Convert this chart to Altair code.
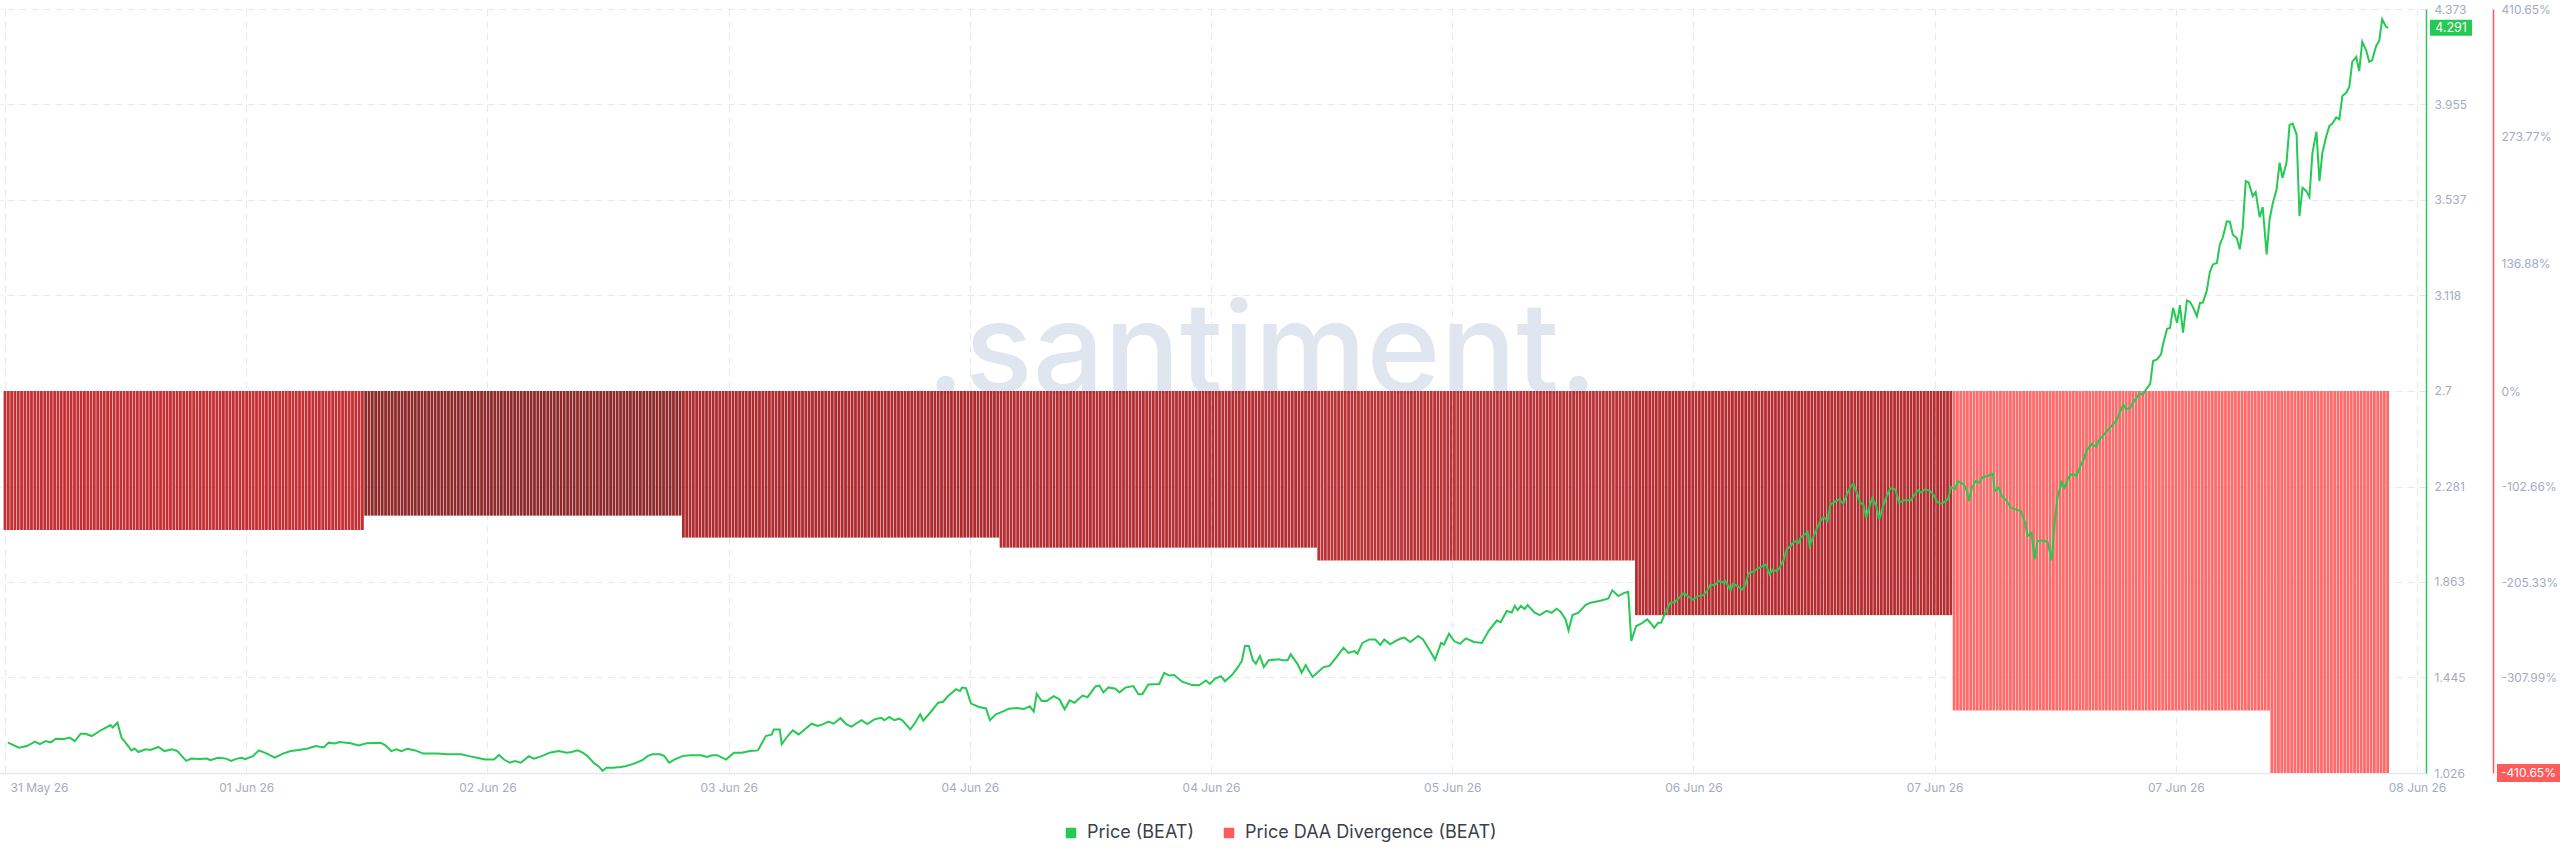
import json
import numpy as np
import pandas as pd
import altair as alt

# ---------------- data ----------------
# hours since start of window
price_hours = [
    0.23, 1.05, 1.66, 2.26, 2.63, 3.08, 3.46, 3.84, 4.44, 4.89, 5.27, 5.72, 6.09, 6.55, 7.15, 7.52, 7.97, 8.13, 8.50, 8.80,
    9.18, 9.55, 9.78, 10.08, 10.61, 10.98, 11.59, 12.04, 12.64, 13.02, 13.69, 14.07, 14.67, 15.27, 15.50, 16.10, 16.70, 17.08, 17.53, 17.91,
    18.13, 18.73, 19.18, 19.79, 20.39, 20.99, 21.59, 22.19, 22.87, 23.47, 24.08, 24.45, 24.90, 25.28, 26.11, 26.71, 27.31, 28.36, 28.74, 29.19,
    29.57, 29.94, 30.39, 31.00, 31.60, 32.65, 33.40, 34.46, 35.06, 35.66, 36.26, 36.94, 37.32, 37.69, 38.14, 38.52, 38.97, 39.57, 39.95, 40.55,
    41.15, 41.83, 42.43, 42.81, 43.26, 43.64, 44.01, 44.46, 44.84, 45.14, 45.44, 45.89, 46.50, 46.87, 47.47, 48.15, 48.53, 48.90, 49.50, 49.81,
    50.18, 50.56, 51.16, 51.76, 52.59, 53.04, 53.42, 53.79, 54.47, 55.07, 55.67, 56.28, 56.88, 57.48, 57.93, 58.08, 58.53, 58.68, 59.13, 59.51,
    59.96, 60.34, 60.94, 61.39, 61.77, 62.22, 62.60, 63.12, 63.57, 63.95,
    64.70, 65.15, 65.68, 66.21, 66.43, 66.81, 67.18, 67.56, 67.79, 68.39, 68.76, 69.14, 69.37, 69.89, 70.50, 70.87, 71.25, 71.85, 72.15, 72.30,
    72.60, 72.98, 73.58, 74.11, 74.41, 74.86, 75.46, 75.84, 76.44, 76.97, 77.42, 77.72, 77.94, 78.32, 78.70, 79.22, 79.67, 80.05, 80.43, 80.80,
    81.40, 81.78, 82.38, 82.68, 82.98, 83.36, 83.89, 84.19, 84.64, 85.24, 85.62, 85.92, 86.37, 87.20, 87.57, 87.95, 88.33, 88.93, 89.68, 90.21,
    90.73, 91.03, 91.41, 91.86, 92.16, 92.69, 93.14, 93.44, 93.67, 93.97, 94.27, 94.50, 94.80, 95.10, 95.47, 96.23, 96.53, 96.90, 97.13, 97.66,
    97.96, 98.26, 98.78, 99.61, 100.06, 100.59, 101.12, 101.49, 101.94, 102.17, 102.55, 103.07, 103.52, 103.90, 104.20, 104.65, 105.03, 105.40, 105.71, 106.16,
    106.76, 107.13, 107.51, 108.04, 108.49, 108.71, 109.09, 109.47, 109.92, 110.37, 110.97, 111.57, 112.10, 112.70, 113.00, 113.45, 113.83, 114.06, 114.28, 114.51,
    114.81, 115.03, 115.56, 115.94, 116.46, 116.84, 117.22, 117.52, 117.89, 118.12, 118.42, 118.87, 119.40, 119.77, 120.15, 120.60, 121.13, 121.43, 121.88, 122.33,
    122.63, 122.86, 123.23, 123.61, 124.06,
    124.36, 124.59, 124.89, 125.12, 125.42, 125.79, 126.17, 126.47, 126.85, 127.22, 127.52, 127.90, 128.28, 128.58, 128.80, 129.18, 129.48, 129.78, 129.93, 130.16,
    130.38, 130.53, 130.91, 131.21, 131.44, 131.74, 132.11, 132.41, 132.79, 133.02, 133.32, 133.54, 133.84, 134.07, 134.37, 134.60, 134.90, 135.05, 135.27, 135.50,
    135.65, 135.95, 136.18, 136.33, 136.63, 136.85, 137.15, 137.38, 137.68, 137.91, 138.36, 138.58, 138.88, 139.11, 139.41, 139.64, 139.94, 140.16, 140.39, 140.61,
    140.91, 141.07, 141.37, 141.59, 141.89, 142.12, 142.42, 142.80, 143.10, 143.47, 144.00, 144.23, 144.53, 144.75, 145.05, 145.43, 145.73, 145.96, 146.33, 146.78,
    147.01, 147.31, 147.54, 147.99, 148.21, 148.36, 148.59, 148.89, 149.12, 149.42, 149.79, 150.17, 150.32, 150.62, 150.85, 151.22, 151.52, 151.90, 152.28, 152.58,
    152.80, 153.10, 153.33, 153.55, 153.86, 154.31, 154.61, 154.83, 155.06, 155.36, 155.59, 155.89, 156.19, 156.49, 156.79, 157.09, 157.24, 157.62, 157.99, 158.14,
    158.89, 159.50,
    160.02, 160.25, 160.55, 160.85, 161.23, 161.53, 161.76, 162.06, 162.28, 162.58, 162.88, 163.03, 163.34, 163.56, 163.79, 164.09, 164.31, 164.54, 164.84, 165.07,
    165.29, 165.59, 165.82, 166.04, 166.34, 166.57, 166.80, 167.10, 167.32, 167.55, 167.85, 168.08, 168.30, 168.60, 168.83, 169.05, 169.28, 169.50, 169.81, 170.03,
    170.33, 170.56, 170.86, 171.08, 171.31, 171.61, 171.84, 172.06, 172.36, 172.59, 172.82, 173.12, 173.34, 173.57, 173.87, 174.09, 174.32, 174.62, 174.85, 175.07,
    175.37, 175.60, 175.82, 176.12, 176.35, 176.58, 176.88, 177.10, 177.33, 177.63, 177.85, 178.08, 178.38, 178.61, 178.83, 179.13, 179.36, 179.59, 179.89, 180.04,
]

price_values = [
    1.159, 1.137, 1.144, 1.163, 1.152, 1.166, 1.160, 1.176, 1.175, 1.181, 1.166, 1.198, 1.198, 1.188, 1.210, 1.222, 1.236, 1.225, 1.246, 1.181,
    1.154, 1.125, 1.133, 1.118, 1.130, 1.127, 1.140, 1.122, 1.130, 1.122, 1.079, 1.089, 1.087, 1.089, 1.082, 1.093, 1.089, 1.079, 1.089, 1.093,
    1.087, 1.100, 1.125, 1.111, 1.093, 1.111, 1.122, 1.127, 1.133, 1.144, 1.138, 1.159, 1.155, 1.162, 1.156, 1.147, 1.156, 1.159, 1.147, 1.122,
    1.130, 1.122, 1.132, 1.125, 1.111, 1.111, 1.108, 1.108, 1.100, 1.093, 1.085, 1.085, 1.105, 1.085, 1.071, 1.078, 1.071, 1.100, 1.089, 1.100,
    1.115, 1.122, 1.115, 1.118, 1.125, 1.115, 1.100, 1.071, 1.056, 1.035, 1.049, 1.049, 1.052, 1.056, 1.066, 1.082, 1.100, 1.108, 1.108, 1.100,
    1.071, 1.085, 1.100, 1.104, 1.104, 1.096, 1.104, 1.104, 1.085, 1.115, 1.115, 1.122, 1.125, 1.188, 1.195, 1.217, 1.217, 1.152, 1.188, 1.213,
    1.195, 1.213, 1.242, 1.232, 1.239, 1.251, 1.242, 1.266, 1.239, 1.229,
    1.257, 1.240, 1.261, 1.268, 1.257, 1.272, 1.257, 1.264, 1.257, 1.217, 1.246, 1.283, 1.255, 1.290, 1.334, 1.338, 1.363, 1.393, 1.385, 1.400,
    1.398, 1.330, 1.315, 1.309, 1.257, 1.283, 1.297, 1.308, 1.311, 1.306, 1.318, 1.295, 1.373, 1.341, 1.341, 1.363, 1.348, 1.305, 1.344, 1.334,
    1.365, 1.358, 1.405, 1.409, 1.379, 1.401, 1.395, 1.379, 1.400, 1.407, 1.371, 1.371, 1.414, 1.416, 1.465, 1.453, 1.455, 1.426, 1.411, 1.410,
    1.431, 1.416, 1.440, 1.450, 1.428, 1.455, 1.490, 1.517, 1.582, 1.582, 1.520, 1.505, 1.539, 1.490, 1.520, 1.524, 1.520, 1.520, 1.546, 1.502,
    1.465, 1.499, 1.447, 1.490, 1.495, 1.534, 1.575, 1.552, 1.560, 1.549, 1.596, 1.611, 1.611, 1.587, 1.611, 1.590, 1.604, 1.614, 1.619, 1.600,
    1.626, 1.611, 1.575, 1.523, 1.596, 1.589, 1.636, 1.604, 1.592, 1.616, 1.600, 1.596, 1.650, 1.694, 1.687, 1.736, 1.729, 1.758, 1.740, 1.758,
    1.744, 1.762, 1.728, 1.718, 1.736, 1.728, 1.746, 1.733, 1.700, 1.650, 1.718, 1.728, 1.762, 1.772, 1.776, 1.782, 1.791, 1.826, 1.801, 1.815,
    1.820, 1.604, 1.670, 1.680, 1.699,
    1.680, 1.662, 1.684, 1.684, 1.728, 1.771, 1.775, 1.793, 1.815, 1.796, 1.786, 1.801, 1.804, 1.823, 1.849, 1.851, 1.867, 1.860, 1.870, 1.848,
    1.826, 1.855, 1.845, 1.830, 1.845, 1.902, 1.909, 1.922, 1.932, 1.939, 1.896, 1.917, 1.910, 1.925, 1.960, 2.005, 2.020, 2.034, 2.042, 2.034,
    2.057, 2.071, 2.083, 2.020, 2.064, 2.093, 2.130, 2.147, 2.130, 2.203, 2.218, 2.225, 2.206, 2.240, 2.279, 2.294, 2.247, 2.210, 2.203, 2.144,
    2.203, 2.230, 2.196, 2.137, 2.196, 2.233, 2.273, 2.269, 2.210, 2.221, 2.221, 2.244, 2.265, 2.255, 2.269, 2.262, 2.240, 2.213, 2.206, 2.225,
    2.279, 2.269, 2.305, 2.290, 2.262, 2.218, 2.276, 2.305, 2.298, 2.323, 2.327, 2.337, 2.261, 2.276, 2.240, 2.218, 2.188, 2.181, 2.174, 2.130,
    2.064, 2.079, 1.962, 2.042, 2.045, 2.039, 1.957, 2.115, 2.233, 2.299, 2.276, 2.321, 2.337, 2.327, 2.371, 2.407, 2.437, 2.468, 2.455, 2.480,
    2.530, 2.568,
    2.641, 2.619, 2.626, 2.656, 2.685, 2.685, 2.707, 2.731, 2.831, 2.838, 2.860, 2.904, 2.972, 2.976, 3.064, 2.998, 3.076, 2.955, 3.096, 3.089,
    3.067, 3.027, 3.085, 3.087, 3.140, 3.221, 3.254, 3.260, 3.341, 3.373, 3.443, 3.441, 3.385, 3.370, 3.320, 3.414, 3.619, 3.613, 3.553, 3.571,
    3.461, 3.505, 3.298, 3.451, 3.519, 3.583, 3.700, 3.634, 3.700, 3.865, 3.871, 3.824, 3.466, 3.590, 3.575, 3.549, 3.743, 3.835, 3.619, 3.743,
    3.817, 3.861, 3.871, 3.898, 3.890, 3.992, 4.007, 4.031, 4.142, 4.163, 4.101, 4.230, 4.192, 4.142, 4.148, 4.211, 4.233, 4.328, 4.294, 4.291,
]

# daily Price-DAA divergence (%), one value per day window
day_start_hours = [0.0, 27.16, 51.16, 75.16, 99.16, 123.16, 147.16, 171.16]
divergence_daily = [-149.4, -134.0, -157.6, -168.4, -182.2, -241.0, -343.5, -410.65]
divergence_colors = ["#c42f33", "#8f2a2b", "#ad2b2f", "#b32e32", "#b93236", "#b52d31", "#ff6a6a", "#ff6a6a"]
bar_step_hours = 0.25
last_hour = 180.04

x_tick_hours = [0, 18.22, 36.45, 54.67, 72.89, 91.11, 109.34, 127.56, 145.78, 164.0, 182.22]
x_tick_labels = ["31 May 26", "01 Jun 26", "02 Jun 26", "03 Jun 26", "04 Jun 26", "04 Jun 26",
                 "05 Jun 26", "06 Jun 26", "07 Jun 26", "07 Jun 26", "08 Jun 26"]
price_ticks = [1.026, 1.445, 1.863, 2.281, 2.7, 3.118, 3.537, 3.955, 4.373]
price_tick_labels = ["1.026", "1.445", "1.863", "2.281", "2.7", "3.118", "3.537", "3.955", "4.373"]
div_ticks = [-410.65, -307.99, -205.33, -102.66, 0, 136.88, 273.77, 410.65]
div_tick_labels = ["", "-307.99%", "-205.33%", "-102.66%", "0%", "136.88%", "273.77%", "410.65%"]
last_price = 4.291
last_price_label = "4.291"
last_div = -410.65
last_div_label = "-410.65%"
legend_names = ["Price (BEAT)", "Price DAA Divergence (BEAT)"]

GREEN = "#26c953"
RED = "#ff5b5b"
GRID = "#e4e8f0"
LABEL = "#a3abc3"
FONT = "Inter"

W, H = 2426, 764
X_MAX = 182.52

# ---------------- frames ----------------
price_df = pd.DataFrame({"t": price_hours, "price": price_values})

bar_t = np.arange(0.0, last_hour + 1e-9, bar_step_hours)
idx = np.searchsorted(np.array(day_start_hours), bar_t, side="right") - 1
bar_df = pd.DataFrame({
    "t": bar_t,
    "div": np.array(divergence_daily)[idx],
    "col": np.array(divergence_colors)[idx],
})

x_scale = alt.Scale(domain=[0, X_MAX], nice=False, zero=False)
p_scale = alt.Scale(domain=[price_ticks[0], price_ticks[-1]], nice=False, zero=False)
d_scale = alt.Scale(domain=[div_ticks[0], div_ticks[-1]], nice=False, zero=False)

x_axis = alt.Axis(
    values=x_tick_hours,
    labelExpr=f"{json.dumps(x_tick_labels)}[indexof({json.dumps(x_tick_hours)}, datum.value)]",
    title=None, grid=True, gridColor=GRID, gridDash=[7, 5], gridWidth=1,
    domainColor=GRID, domainWidth=1.5, ticks=False, labelPadding=9,
    labelColor=LABEL, labelFont=FONT, labelFontSize=12,
    labelFlush=False, labelOverlap=False, labelBound=False,
    labelAlign={"condition": {"test": "datum.value == 0", "value": "left"}, "value": "center"},
    labelOffset={"condition": {"test": "datum.value == 0", "value": 5}, "value": 0},
)

bars = alt.Chart(bar_df).mark_bar(width=2.8, opacity=1).encode(
    x=alt.X("t:Q", scale=x_scale, axis=x_axis),
    y=alt.Y("div:Q", scale=d_scale, axis=alt.Axis(
        orient="right", offset=67, values=div_ticks,
        labelExpr=f"{json.dumps(div_tick_labels)}[indexof({json.dumps(div_ticks)}, datum.value)]",
        title=None, grid=False, ticks=False, domainColor=RED, domainWidth=1.5,
        labelPadding=8, labelColor=LABEL, labelFont=FONT, labelFontSize=12,
        labelOverlap=False, labelBound=False)),
    fill=alt.Fill("col:N", scale=None),
)

BOX_D = "M-1,-0.286H1V0.286H-1Z"
div_box = alt.Chart(pd.DataFrame({"v": [last_div], "s": [last_div_label]})).mark_point(
    shape=BOX_D, filled=True, size=63 * 63, color=RED, opacity=1, strokeWidth=0
).encode(x=alt.value(W + 102.5), y=alt.Y("v:Q", scale=d_scale))
div_txt = alt.Chart(pd.DataFrame({"v": [last_div], "s": [last_div_label]})).mark_text(
    color="white", font=FONT, fontSize=12, align="center", baseline="middle"
).encode(x=alt.value(W + 102.5), y=alt.Y("v:Q", scale=d_scale), text="s:N")

div_group = alt.layer(bars, div_box, div_txt)

line = alt.Chart(price_df).mark_line(color=GREEN, strokeWidth=2).encode(
    x=alt.X("t:Q", scale=x_scale, axis=x_axis),
    y=alt.Y("price:Q", scale=p_scale, axis=alt.Axis(
        orient="right", values=price_ticks,
        labelExpr=f"{json.dumps(price_tick_labels)}[indexof({json.dumps(price_ticks)}, datum.value)]",
        title=None, grid=True, gridColor=GRID, gridDash=[7, 5], gridWidth=1,
        ticks=False, domainColor=GREEN, domainWidth=1.5, labelPadding=8,
        labelColor=LABEL, labelFont=FONT, labelFontSize=12,
        labelOverlap=False, labelBound=False)),
)

BOX_P = "M-1,-0.381H1V0.381H-1Z"
p_box = alt.Chart(pd.DataFrame({"v": [last_price], "s": [last_price_label]})).mark_point(
    shape=BOX_P, filled=True, size=42 * 42, color=GREEN, opacity=1, strokeWidth=0
).encode(x=alt.value(W + 25), y=alt.Y("v:Q", scale=p_scale))
p_txt = alt.Chart(pd.DataFrame({"v": [last_price], "s": [last_price_label]})).mark_text(
    color="white", font=FONT, fontSize=12.5, align="center", baseline="middle"
).encode(x=alt.value(W + 25), y=alt.Y("v:Q", scale=p_scale), text="s:N")

price_group = alt.layer(line, p_box, p_txt)

watermark = alt.Chart(pd.DataFrame({"s": [".santiment."]})).mark_text(
    font=FONT, fontSize=126, fontWeight=500, color="#e0e6ef", align="center", baseline="alphabetic"
).encode(x=alt.value(1262), y=alt.value(384), text="s:N")

legend_layer = alt.Chart(pd.DataFrame({"series": legend_names})).mark_square(
    filled=True, size=110, opacity=1
).encode(
    color=alt.Color("series:N", scale=alt.Scale(domain=legend_names, range=[GREEN, RED]),
                    legend=alt.Legend(orient="none", legendX=1062, legendY=815, direction="horizontal",
                                      title=None, symbolType="square", symbolSize=110,
                                      symbolStrokeWidth=0, labelFont=FONT, labelFontSize=18,
                                      labelColor="#3a3f4b", columnPadding=26, labelOffset=7,
                                      labelLimit=600, padding=0, symbolOpacity=1)),
).transform_filter("false")

chart = alt.layer(watermark, div_group, price_group, legend_layer).resolve_scale(
    y="independent"
).properties(
    width=W, height=H,
    padding={"left": 0, "top": 9, "right": 2560 - W, "bottom": 867 - 9 - H},
    autosize=alt.AutoSizeParams(type="none"),
    background="white",
).configure_view(stroke=None)

chart.save("out.html", embed_options={"renderer": "svg", "actions": False})
